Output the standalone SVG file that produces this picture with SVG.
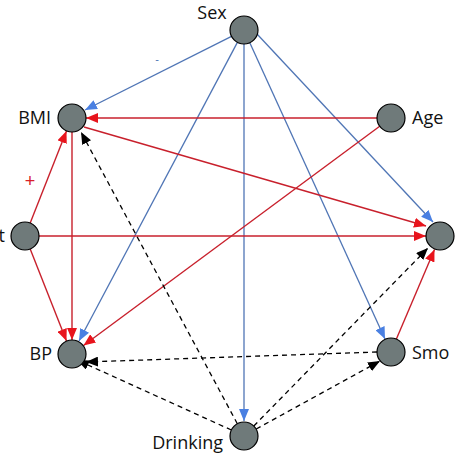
<svg xmlns="http://www.w3.org/2000/svg" width="455" height="455" viewBox="0 0 455 455">
<style>
.node circle{fill:#6f7a7a;stroke:#000;stroke-width:1.2}
.lbl{font-family:"Open Sans","Liberation Sans",sans-serif;font-size:18px;fill:#111}
.r{stroke:#c8202c;stroke-width:1.4;fill:none;marker-end:url(#ar)}
.b{stroke:#4f75b5;stroke-width:1.3;fill:none;marker-end:url(#ab)}
.bk{stroke:#000;stroke-width:1.3;fill:none;stroke-dasharray:5,4;marker-end:url(#ak)}
</style>
<defs>
<marker id="ar" markerUnits="userSpaceOnUse" markerWidth="13" markerHeight="10" refX="12" refY="5" orient="auto"><path d="M0,0 L12,5 L0,10 Z" fill="#e8141c"/></marker>
<marker id="ab" markerUnits="userSpaceOnUse" markerWidth="13" markerHeight="10" refX="12" refY="5" orient="auto"><path d="M0,0 L12,5 L0,10 Z" fill="#4a80e2"/></marker>
<marker id="ak" markerUnits="userSpaceOnUse" markerWidth="13" markerHeight="10" refX="12" refY="5" orient="auto"><path d="M0,0 L12,5 L0,10 Z" fill="#000"/></marker>
</defs>
<rect width="455" height="455" fill="#fff"/>
<g id="connectors">
<line class="b" x1="231.5" y1="36.4" x2="85" y2="110"/>
<line class="b" x1="237.4" y1="42.4" x2="79" y2="341"/>
<line class="b" x1="244" y1="44" x2="244" y2="421"/>
<line class="b" x1="249.8" y1="42.7" x2="385" y2="339"/>
<line class="b" x1="257" y1="34" x2="433" y2="222"/>
<line class="r" x1="377" y1="118" x2="86" y2="118"/>
<line class="r" x1="379.7" y1="126.3" x2="83.5" y2="345.5"/>
<line class="r" x1="84" y1="127" x2="426" y2="226"/>
<line class="r" x1="72" y1="132" x2="72" y2="340"/>
<line class="r" x1="30.2" y1="223" x2="66.5" y2="131"/>
<line class="r" x1="39" y1="236" x2="426" y2="236"/>
<line class="r" x1="30.2" y1="249" x2="66.5" y2="341"/>
<line class="r" x1="396.4" y1="339" x2="434.5" y2="249.5"/>
<line class="bk" x1="237.3" y1="423.7" x2="81" y2="132"/>
<line class="bk" x1="231.4" y1="430" x2="77" y2="360"/>
<line class="bk" x1="377" y1="352" x2="86" y2="362"/>
<line class="bk" x1="256.2" y1="429" x2="380" y2="361"/>
<line class="bk" x1="253.8" y1="426" x2="428" y2="248"/>
<text x="157" y="63" font-family="Liberation Sans,sans-serif" font-size="11" fill="#4f75b5" text-anchor="middle">-</text>
<text x="30" y="187" font-family="Liberation Sans,sans-serif" font-size="18" fill="#d8202a" text-anchor="middle">+</text>
</g>
<g id="sex" class="node"><circle cx="244" cy="30" r="14"/><text class="lbl" x="212" y="19" text-anchor="middle">Sex</text></g>
<g id="bmi" class="node"><circle cx="72" cy="118" r="14"/><text class="lbl" x="51" y="124" text-anchor="end">BMI</text></g>
<g id="age" class="node"><circle cx="391" cy="118" r="14"/><text class="lbl" x="412" y="124">Age</text></g>
<g id="left" class="node"><circle cx="25" cy="236" r="14"/><text class="lbl" x="5" y="242" text-anchor="end">t</text></g>
<g id="right" class="node"><circle cx="440" cy="236" r="14"/></g>
<g id="bp" class="node"><circle cx="72" cy="354" r="14"/><text class="lbl" x="52" y="360" text-anchor="end">BP</text></g>
<g id="smo" class="node"><circle cx="391" cy="352" r="14"/><text class="lbl" x="412" y="359">Smo</text></g>
<g id="drinking" class="node"><circle cx="244" cy="436" r="14"/><text class="lbl" x="223" y="449" text-anchor="end">Drinking</text></g>
</svg>
